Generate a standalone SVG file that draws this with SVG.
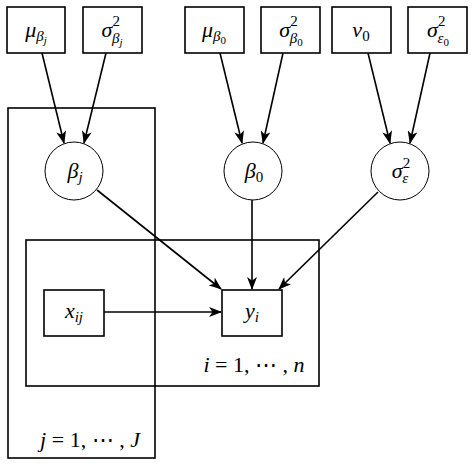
<svg xmlns="http://www.w3.org/2000/svg" width="474" height="466" viewBox="0 0 474 466">
<style>
.box{fill:#fff;stroke:#000;stroke-width:1.6}
.plate{fill:none;stroke:#000;stroke-width:1.6}
.circ{fill:#fff;stroke:#000;stroke-width:1}
.edge{fill:none;stroke:#000;stroke-width:1.6;marker-end:url(#arr)}
.m{font-family:"Liberation Serif","DejaVu Serif",serif;font-style:italic;font-size:22px;text-anchor:middle}
.r{font-style:normal}
.s{font-size:15px}
.t{font-size:11px}
</style>
<defs>
<marker id="arr" viewBox="0 0 13 10" refX="12" refY="5" markerWidth="13" markerHeight="10" markerUnits="userSpaceOnUse" orient="auto">
<path d="M0,0 L13,5 L0,10 L3.5,5 Z" fill="#000"/>
</marker>
</defs>
<g id="plate-J"><rect class="plate" x="8" y="108" width="147" height="350"/><text class="m" x="90" y="447">j <tspan class="r">= 1, ⋯ , </tspan>J</text></g>
<g id="plate-i"><rect class="plate" x="26" y="240" width="293" height="146"/><text class="m" x="254" y="372">i <tspan class="r">= 1, ⋯ , </tspan>n</text></g>
<g id="connectors">
<line class="edge" x1="42" y1="53" x2="64" y2="143"/>
<line class="edge" x1="106" y1="53" x2="84" y2="143"/>
<line class="edge" x1="220" y1="53" x2="242" y2="143"/>
<line class="edge" x1="283" y1="53" x2="263" y2="143"/>
<line class="edge" x1="368" y1="53" x2="390" y2="143"/>
<line class="edge" x1="430" y1="53" x2="410" y2="143"/>
<line class="edge" x1="97" y1="190" x2="221" y2="289"/>
<line class="edge" x1="252" y1="200" x2="252" y2="289"/>
<line class="edge" x1="378" y1="192" x2="279" y2="289"/>
<line class="edge" x1="104" y1="312" x2="221" y2="312"/>
</g>
<g id="mu-beta-j"><rect class="box" x="7" y="7" width="58" height="46"/><text class="m" x="36" y="37">μ<tspan class="s" dy="4">β</tspan><tspan class="t" dy="3">j</tspan></text></g>
<g id="sigma-beta-j"><rect class="box" x="83" y="7" width="59" height="46"/><text class="m" x="112" y="37">σ<tspan class="s r" dy="-11">2</tspan><tspan class="s" dx="-8" dy="17">β</tspan><tspan class="t" dy="3">j</tspan></text></g>
<g id="mu-beta-0"><rect class="box" x="185" y="7" width="59" height="46"/><text class="m" x="214" y="37">μ<tspan class="s" dy="4">β</tspan><tspan class="t r" dy="3">0</tspan></text></g>
<g id="sigma-beta-0"><rect class="box" x="261" y="7" width="59" height="46"/><text class="m" x="291" y="37">σ<tspan class="s r" dy="-11">2</tspan><tspan class="s" dx="-8" dy="17">β</tspan><tspan class="t r" dy="3">0</tspan></text></g>
<g id="nu-0"><rect class="box" x="332" y="7" width="59" height="46"/><text class="m" x="361" y="37">ν<tspan class="s r" dy="4">0</tspan></text></g>
<g id="sigma-eps-0"><rect class="box" x="408" y="7" width="59" height="46"/><text class="m" x="438" y="37">σ<tspan class="s r" dy="-11">2</tspan><tspan class="s" dx="-8" dy="17">ε</tspan><tspan class="t r" dy="3">0</tspan></text></g>
<g id="beta-j"><circle class="circ" cx="74" cy="171" r="29"/><text class="m" x="75" y="178">β<tspan class="s" dy="4">j</tspan></text></g>
<g id="beta-0"><circle class="circ" cx="253" cy="171" r="29"/><text class="m" x="254" y="178">β<tspan class="s r" dy="4">0</tspan></text></g>
<g id="sigma-eps"><circle class="circ" cx="400" cy="171" r="29"/><text class="m" x="401" y="178">σ<tspan class="s r" dy="-10">2</tspan><tspan class="s" dx="-8" dy="15">ε</tspan></text></g>
<g id="x-ij"><rect class="box" x="44" y="290" width="60" height="46"/><text class="m" x="74" y="318">x<tspan class="s" dy="4">ij</tspan></text></g>
<g id="y-i"><rect class="box" x="222" y="290" width="60" height="46"/><text class="m" x="252" y="318">y<tspan class="s" dy="4">i</tspan></text></g>
</svg>
